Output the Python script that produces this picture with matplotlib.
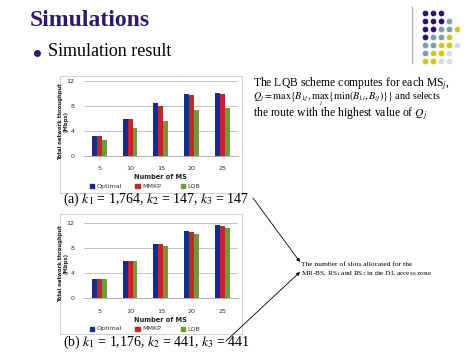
import numpy as np
import matplotlib
matplotlib.use("Agg")
import matplotlib.pyplot as plt
from matplotlib.patches import Rectangle

plt.rcParams['mathtext.fontset'] = 'stix'

# data
ms_counts = [5, 10, 15, 20, 25]
series_names = ['Optimal', 'MMKP', 'LQB']
series_colors = ['#1d2b86', '#c0272d', '#6f9a3a']

opt_a = [3.1, 5.9, 8.4, 9.8, 10.0]
mmkp_a = [3.1, 5.9, 8.0, 9.7, 9.9]
lqb_a = [2.5, 4.4, 5.5, 7.3, 7.6]

opt_b = [3.1, 5.9, 8.6, 10.7, 11.7]
mmkp_b = [3.1, 5.9, 8.6, 10.6, 11.4]
lqb_b = [3.1, 5.9, 8.3, 10.2, 11.1]

y_ticks = [0, 4, 8, 12]

caption_a = r'(a) $k_1$ = 1,764, $k_2$ = 147, $k_3$ = 147'
caption_b = r'(b) $k_1$ = 1,176, $k_2$ = 441, $k_3$ = 441'

# decorative dot pattern in the corner (D=dark, T=teal, Y=yellow, L=light)
dot_rows = ["DDD", "DDDT", "DDTTY", "DTTY", "TTYYL", "TYYL", "YYLL"]
dot_colors = {'D': '#2c1763', 'T': '#7fa1a2', 'Y': '#c9c823', 'L': '#d9dce8'}

W, H = 474, 355
purple = '#2d1b69'
serif = 'Liberation Serif'

fig = plt.figure(figsize=(W / 100, H / 100), dpi=100)
ov = fig.add_axes([0, 0, 1, 1])
ov.set_xlim(0, W)
ov.set_ylim(H, 0)
ov.axis('off')

# header
ov.text(30, 21, 'Simulations', family=serif, fontweight='bold', fontsize=17,
        color=purple, va='center', ha='left')
ov.scatter([37], [53], s=16, color=purple)
ov.text(48, 52, 'Simulation result', family=serif, fontsize=13, va='center', ha='left')

# corner decoration
ov.plot([412, 412], [7, 63], color='#b5b5b5', lw=1)
for r, row in enumerate(dot_rows):
    for c, ch in enumerate(row):
        ov.scatter(425 + 8 * c, 12.7 + 8 * r, s=17, color=dot_colors[ch], lw=0)


def draw_chart(frame_top, frame_bottom, top_px, zero_px, values):
    ov.add_patch(Rectangle((60, frame_top), 182, frame_bottom - frame_top,
                           fill=False, ec='#d3d3d3', lw=0.8))
    left, right = 83.8, 238.0
    ax = fig.add_axes([left / W, 1 - zero_px / H, (right - left) / W,
                       (zero_px - top_px) / H])
    ax.patch.set_visible(False)
    x = np.arange(len(ms_counts))
    w = 0.16
    for i, (vals, col) in enumerate(zip(values, series_colors)):
        ax.bar(x + (i - 1) * w, vals, w, color=col, zorder=3)
    ax.set_xlim(-0.5, len(ms_counts) - 0.5)
    ax.set_ylim(0, 12)
    ax.set_yticks(y_ticks)
    ax.set_xticks(x)
    ax.set_xticklabels([str(m) for m in ms_counts])
    ax.yaxis.grid(True, color='#c4c4c4', lw=0.7)
    for s in ['top', 'right', 'left']:
        ax.spines[s].set_visible(False)
    ax.spines['bottom'].set_color('#b0b0b0')
    ax.spines['bottom'].set_linewidth(0.7)
    ax.tick_params(length=0, labelsize=4.6, colors='#333333')
    ax.tick_params(axis='x', pad=7.5)
    ax.tick_params(axis='y', pad=6.5)
    cx = (left + right) / 2
    ov.text(cx, zero_px + 21.5, 'Number of MS', fontsize=4.8, fontweight='bold',
            ha='center', va='center', color='#222222')
    ov.text(63.5, (top_px + zero_px) / 2 + 3, 'Total network throughput\n(Mbps)',
            rotation=90, fontsize=3.8, fontweight='bold', ha='center',
            va='center', multialignment='center', color='#222222', linespacing=1.2)
    ly = zero_px + 30.5
    for i, name in enumerate(series_names):
        mx = 92 + 45.5 * i
        ov.add_patch(Rectangle((mx - 2.2, ly - 2.2), 4.4, 4.4, color=series_colors[i]))
        ov.text(mx + 4.5, ly, name, fontsize=4.6, va='center', ha='left', color='#333333')
    return ax


draw_chart(76, 193, 80.7, 155.7, [opt_a, mmkp_a, lqb_a])
draw_chart(214, 334, 222.7, 298.3, [opt_b, mmkp_b, lqb_b])

ov.text(63, 199, caption_a, family=serif, fontsize=10, va='center', ha='left')
ov.text(63, 342, caption_b, family=serif, fontsize=10, va='center', ha='left')

# explanation text on the right
ov.text(253, 84, r'The LQB scheme computes for each MS$_j$,', family=serif,
        fontsize=8.4, va='center', ha='left')
ov.text(253, 98.5, r'$Q_j = \max\{B_{1j}, \max_i\{\min(B_{1i}, B_{ij})\}\}$ and selects',
        family=serif, fontsize=7.3, va='center', ha='left')
ov.text(253, 113.5, r'the route with the highest value of $Q_j$', family=serif,
        fontsize=8.4, va='center', ha='left')

ov.text(301, 264, 'The number of slots allocated for the', family=serif,
        fontsize=5.4, va='center', ha='left')
ov.text(301, 274, r'MR-BS, RS$_1$ and RS$_2$ in the DL access zone', family=serif,
        fontsize=5.2, va='center', ha='left')

arrow = dict(arrowstyle='-|>', color='black', lw=0.6, mutation_scale=5,
             shrinkA=0, shrinkB=0)
ov.annotate('', xy=(300, 262), xytext=(253, 198), arrowprops=arrow)
ov.annotate('', xy=(300, 272), xytext=(226, 341), arrowprops=arrow)

fig.savefig('out.png', dpi=100)
